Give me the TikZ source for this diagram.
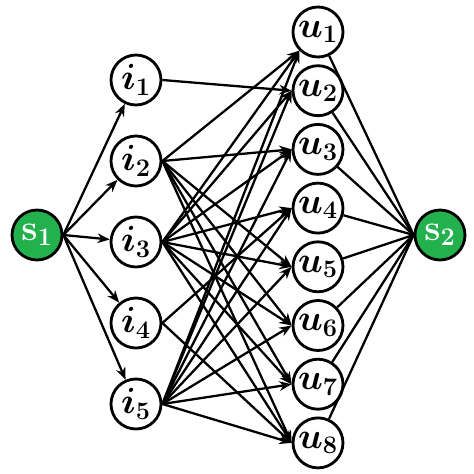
\documentclass[tikz,border=0pt]{standalone}
\usepackage{bm}
\usetikzlibrary{arrows.meta}
\begin{document}
\begin{tikzpicture}[x=0.02cm, y=-0.02cm, >={Stealth[length=7pt,width=5.5pt]}, font=\huge,
		vertex/.style={circle, draw, line width=1.6pt, minimum size=1cm, inner sep=0pt, fill=white},
		terminal/.style={vertex, fill=nodegreen, text=white},
		link/.style={->, line width=1.3pt}]
		\definecolor{nodegreen}{RGB}{34,177,76}
		\useasboundingbox (0,0) rectangle (474,474);
		
		% 源点与汇点
		\node[terminal] (s1) at (37,235) {$\mathbf{s_1}$};
		\node[terminal] (s2) at (440,235) {$\mathbf{s_2}$};
		
		% 第一层 i
		\foreach \k/\y in {1/80, 2/161, 3/242, 4/323, 5/404}
		\node[vertex] (i\k) at (136,\y) {$\bm{i_{\k}}$};
		
		% 第二层 u
		\foreach \k in {1,...,8}
		\node[vertex] (u\k) at (318,{32+58.7*(\k-1)}) {$\bm{u_{\k}}$};
		
		% s1 到 i
		\foreach \k in {1,...,5}
		\draw[link] (s1.east) -- (i\k);
		
		% i 到 u（u1 的箭头落在左下方）
		\foreach \a in {2,3,5}
		\draw[link] (i\a.east) -- (u1.225);
		\foreach \a/\b in {1/2, 2/3, 2/5, 2/6, 2/7, 2/8,
			3/2, 3/3, 3/4, 3/5, 3/6, 3/7, 3/8,
			4/4, 4/8,
			5/2, 5/3, 5/4, 5/5, 5/6, 5/7, 5/8}
		\draw[link] (i\a.east) -- (u\b.west);
		
		% u 到 s2
		\foreach \k in {1,...,8}
		\draw[line width=1.3pt] (u\k) -- (s2.west);
	\end{tikzpicture}
\end{document}
